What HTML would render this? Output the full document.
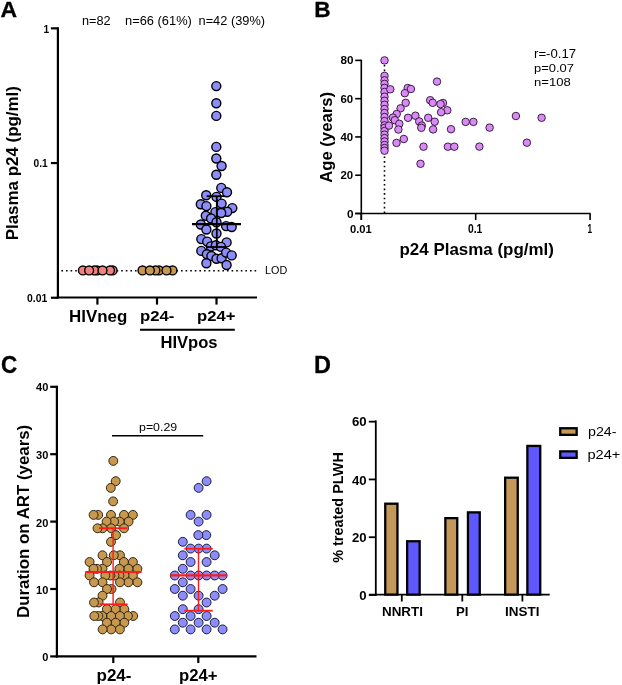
<!DOCTYPE html>
<html><head><meta charset="utf-8"><title>Figure</title>
<style>html,body{margin:0;padding:0;background:#fff;}svg{display:block;}text{font-family:"Liberation Sans", Arial, sans-serif;}</style>
</head><body>
<svg width="622" height="685" viewBox="0 0 622 685">
<rect width="622" height="685" fill="#fff"/>
<text id="A" x="0.50" y="16.90" font-size="22.60" font-weight="bold" text-anchor="start" textLength="16.60" lengthAdjust="spacingAndGlyphs" stroke="#000" stroke-width="0.3">A</text>
<line x1="57.9" y1="27.2" x2="57.9" y2="298.6" stroke="#000" stroke-width="2.2"/>
<line x1="56.8" y1="297.5" x2="257" y2="297.5" stroke="#000" stroke-width="2.2"/>
<line x1="50.9" y1="28.350000000000023" x2="57.9" y2="28.350000000000023" stroke="#000" stroke-width="2.2"/>
<line x1="50.9" y1="163.05" x2="57.9" y2="163.05" stroke="#000" stroke-width="2.2"/>
<line x1="50.9" y1="297.75" x2="57.9" y2="297.75" stroke="#000" stroke-width="2.2"/>
<text id="a1" x="43.50" y="32.90" font-size="10.37" font-weight="bold" text-anchor="start" textLength="5.65" lengthAdjust="spacingAndGlyphs">1</text>
<text id="a01" x="33.50" y="166.90" font-size="10.76" font-weight="bold" text-anchor="start" textLength="14.17" lengthAdjust="spacingAndGlyphs">0.1</text>
<text id="a001" x="27.00" y="302.10" font-size="10.69" font-weight="bold" text-anchor="start" textLength="20.32" lengthAdjust="spacingAndGlyphs">0.01</text>
<line x1="97.4" y1="297.5" x2="97.4" y2="304.6" stroke="#000" stroke-width="2.2"/>
<line x1="157" y1="297.5" x2="157" y2="304.6" stroke="#000" stroke-width="2.2"/>
<line x1="216.5" y1="297.5" x2="216.5" y2="304.6" stroke="#000" stroke-width="2.2"/>
<text id="hivneg" x="69.00" y="321.54" font-size="16.00" font-weight="bold" text-anchor="start" textLength="58.24" lengthAdjust="spacingAndGlyphs">HIVneg</text>
<text id="ap24m" x="140.00" y="321.24" font-size="14.82" font-weight="bold" text-anchor="start" textLength="34.41" lengthAdjust="spacingAndGlyphs">p24-</text>
<text id="ap24p" x="197.00" y="321.24" font-size="14.82" font-weight="bold" text-anchor="start" textLength="38.44" lengthAdjust="spacingAndGlyphs">p24+</text>
<line x1="140" y1="329.7" x2="234.8" y2="329.7" stroke="#000" stroke-width="2"/>
<text id="hivpos" x="160.50" y="348.44" font-size="16.00" font-weight="bold" text-anchor="start" textLength="57.06" lengthAdjust="spacingAndGlyphs">HIVpos</text>
<text id="n82" x="82.00" y="24.60" font-size="12.30" text-anchor="start" textLength="28.62" lengthAdjust="spacingAndGlyphs">n=82</text>
<text id="n66" x="125.00" y="25.00" font-size="12.30" text-anchor="start" textLength="66.88" lengthAdjust="spacingAndGlyphs">n=66 (61%)</text>
<text id="n42" x="198.50" y="25.00" font-size="12.30" text-anchor="start" textLength="66.61" lengthAdjust="spacingAndGlyphs">n=42 (39%)</text>
<text id="aylab" x="18.41" y="240.30" font-size="17.22" font-weight="bold" text-anchor="start" textLength="154.20" lengthAdjust="spacingAndGlyphs" transform="rotate(-90 18.41 240.30)">Plasma p24 (pg/ml)</text>
<line x1="61.4" y1="270.75" x2="256.5" y2="270.75" stroke="#000" stroke-width="1.7" stroke-dasharray="1.6 3.0"/>
<text id="lod" x="265.00" y="274.20" font-size="10.76" text-anchor="start" textLength="22.20" lengthAdjust="spacingAndGlyphs">LOD</text>
<circle cx="97.0" cy="270.4" r="4.45" fill="#F2807F" stroke="#000" stroke-width="1.4"/>
<circle cx="94.3" cy="270.4" r="4.45" fill="#F2807F" stroke="#000" stroke-width="1.4"/>
<circle cx="112.6" cy="270.4" r="4.45" fill="#F2807F" stroke="#000" stroke-width="1.4"/>
<circle cx="110.0" cy="270.4" r="4.45" fill="#F2807F" stroke="#000" stroke-width="1.4"/>
<circle cx="82.9" cy="270.4" r="4.45" fill="#F2807F" stroke="#000" stroke-width="1.4"/>
<circle cx="89.1" cy="270.4" r="4.45" fill="#F2807F" stroke="#000" stroke-width="1.4"/>
<circle cx="102.5" cy="270.4" r="4.45" fill="#F2807F" stroke="#000" stroke-width="1.4"/>
<circle cx="159.1" cy="270.4" r="4.45" fill="#C9984F" stroke="#000" stroke-width="1.4"/>
<circle cx="155.4" cy="270.4" r="4.45" fill="#C9984F" stroke="#000" stroke-width="1.4"/>
<circle cx="172.5" cy="270.4" r="4.45" fill="#C9984F" stroke="#000" stroke-width="1.4"/>
<circle cx="142.5" cy="270.4" r="4.45" fill="#C9984F" stroke="#000" stroke-width="1.4"/>
<circle cx="149.9" cy="270.4" r="4.45" fill="#C9984F" stroke="#000" stroke-width="1.4"/>
<circle cx="166.5" cy="270.4" r="4.45" fill="#C9984F" stroke="#000" stroke-width="1.4"/>
<circle cx="216.3" cy="86.1" r="4.5" fill="#8C8CFB" stroke="#000" stroke-width="1.4"/>
<circle cx="216.3" cy="103.2" r="4.5" fill="#8C8CFB" stroke="#000" stroke-width="1.4"/>
<circle cx="216.3" cy="115.9" r="4.5" fill="#8C8CFB" stroke="#000" stroke-width="1.4"/>
<circle cx="216.3" cy="146.9" r="4.5" fill="#8C8CFB" stroke="#000" stroke-width="1.4"/>
<circle cx="216.3" cy="158.5" r="4.5" fill="#8C8CFB" stroke="#000" stroke-width="1.4"/>
<circle cx="221.6" cy="166.0" r="4.5" fill="#8C8CFB" stroke="#000" stroke-width="1.4"/>
<circle cx="216.3" cy="174.7" r="4.5" fill="#8C8CFB" stroke="#000" stroke-width="1.4"/>
<circle cx="221.3" cy="187.9" r="4.5" fill="#8C8CFB" stroke="#000" stroke-width="1.4"/>
<circle cx="206.2" cy="195.2" r="4.5" fill="#8C8CFB" stroke="#000" stroke-width="1.4"/>
<circle cx="216.5" cy="196.9" r="4.5" fill="#8C8CFB" stroke="#000" stroke-width="1.4"/>
<circle cx="200.8" cy="204.2" r="4.5" fill="#8C8CFB" stroke="#000" stroke-width="1.4"/>
<circle cx="206.4" cy="206.1" r="4.5" fill="#8C8CFB" stroke="#000" stroke-width="1.4"/>
<circle cx="221.6" cy="203.6" r="4.5" fill="#8C8CFB" stroke="#000" stroke-width="1.4"/>
<circle cx="232.3" cy="208.1" r="4.5" fill="#8C8CFB" stroke="#000" stroke-width="1.4"/>
<circle cx="227.2" cy="211.8" r="4.5" fill="#8C8CFB" stroke="#000" stroke-width="1.4"/>
<circle cx="215.4" cy="212.1" r="4.5" fill="#8C8CFB" stroke="#000" stroke-width="1.4"/>
<circle cx="221.2" cy="213.0" r="4.5" fill="#8C8CFB" stroke="#000" stroke-width="1.4"/>
<circle cx="205.8" cy="215.8" r="4.5" fill="#8C8CFB" stroke="#000" stroke-width="1.4"/>
<circle cx="211.1" cy="218.5" r="4.5" fill="#8C8CFB" stroke="#000" stroke-width="1.4"/>
<circle cx="216.5" cy="222.2" r="4.5" fill="#8C8CFB" stroke="#000" stroke-width="1.4"/>
<circle cx="200.8" cy="224.5" r="4.5" fill="#8C8CFB" stroke="#000" stroke-width="1.4"/>
<circle cx="206.4" cy="229.5" r="4.5" fill="#8C8CFB" stroke="#000" stroke-width="1.4"/>
<circle cx="226.1" cy="226.1" r="4.5" fill="#8C8CFB" stroke="#000" stroke-width="1.4"/>
<circle cx="231.7" cy="227.0" r="4.5" fill="#8C8CFB" stroke="#000" stroke-width="1.4"/>
<circle cx="216.5" cy="233.5" r="4.5" fill="#8C8CFB" stroke="#000" stroke-width="1.4"/>
<circle cx="201.3" cy="239.1" r="4.5" fill="#8C8CFB" stroke="#000" stroke-width="1.4"/>
<circle cx="207.2" cy="241.6" r="4.5" fill="#8C8CFB" stroke="#000" stroke-width="1.4"/>
<circle cx="226.6" cy="242.4" r="4.5" fill="#8C8CFB" stroke="#000" stroke-width="1.4"/>
<circle cx="210.9" cy="246.4" r="4.5" fill="#8C8CFB" stroke="#000" stroke-width="1.4"/>
<circle cx="215.9" cy="245.3" r="4.5" fill="#8C8CFB" stroke="#000" stroke-width="1.4"/>
<circle cx="221.0" cy="246.9" r="4.5" fill="#8C8CFB" stroke="#000" stroke-width="1.4"/>
<circle cx="201.3" cy="250.9" r="4.5" fill="#8C8CFB" stroke="#000" stroke-width="1.4"/>
<circle cx="206.9" cy="254.3" r="4.5" fill="#8C8CFB" stroke="#000" stroke-width="1.4"/>
<circle cx="211.4" cy="256.0" r="4.5" fill="#8C8CFB" stroke="#000" stroke-width="1.4"/>
<circle cx="216.5" cy="258.8" r="4.5" fill="#8C8CFB" stroke="#000" stroke-width="1.4"/>
<circle cx="221.6" cy="258.2" r="4.5" fill="#8C8CFB" stroke="#000" stroke-width="1.4"/>
<circle cx="226.1" cy="252.6" r="4.5" fill="#8C8CFB" stroke="#000" stroke-width="1.4"/>
<circle cx="231.7" cy="255.4" r="4.5" fill="#8C8CFB" stroke="#000" stroke-width="1.4"/>
<circle cx="206.4" cy="263.3" r="4.5" fill="#8C8CFB" stroke="#000" stroke-width="1.4"/>
<circle cx="226.6" cy="265.0" r="4.5" fill="#8C8CFB" stroke="#000" stroke-width="1.4"/>
<line x1="192" y1="224.2" x2="241" y2="224.2" stroke="#000" stroke-width="2.2"/>
<line x1="216.8" y1="196.2" x2="216.8" y2="247" stroke="#000" stroke-width="1.8"/>
<line x1="206.6" y1="196.2" x2="227" y2="196.2" stroke="#000" stroke-width="1.8"/>
<line x1="206.6" y1="247" x2="227" y2="247" stroke="#000" stroke-width="1.8"/>
<circle cx="227.0" cy="192.2" r="4.5" fill="#8C8CFB" stroke="#000" stroke-width="1.4"/>
<text id="B" x="314.30" y="16.90" font-size="22.60" font-weight="bold" text-anchor="start" textLength="16.35" lengthAdjust="spacingAndGlyphs" stroke="#000" stroke-width="0.3">B</text>
<line x1="361.3" y1="59.7" x2="361.3" y2="220" stroke="#000" stroke-width="1.6"/>
<line x1="355.2" y1="213.5" x2="590.5" y2="213.5" stroke="#000" stroke-width="1.6"/>
<line x1="355.2" y1="213.5" x2="361.3" y2="213.5" stroke="#000" stroke-width="1.6"/>
<line x1="355.2" y1="175.22" x2="361.3" y2="175.22" stroke="#000" stroke-width="1.6"/>
<line x1="355.2" y1="136.94" x2="361.3" y2="136.94" stroke="#000" stroke-width="1.6"/>
<line x1="355.2" y1="98.66000000000001" x2="361.3" y2="98.66000000000001" stroke="#000" stroke-width="1.6"/>
<line x1="355.2" y1="60.379999999999995" x2="361.3" y2="60.379999999999995" stroke="#000" stroke-width="1.6"/>
<text id="b80" x="340.50" y="63.60" font-size="10.78" font-weight="bold" text-anchor="start" textLength="12.99" lengthAdjust="spacingAndGlyphs">80</text>
<text id="b60" x="340.50" y="102.58" font-size="10.78" font-weight="bold" text-anchor="start" transform="translate(340.50 0) scale(1.0604 1) translate(-340.50 0)">60</text>
<text id="b40" x="340.50" y="140.86" font-size="10.78" font-weight="bold" text-anchor="start" transform="translate(340.50 0) scale(1.0604 1) translate(-340.50 0)">40</text>
<text id="b20" x="340.50" y="179.14" font-size="10.78" font-weight="bold" text-anchor="start" transform="translate(340.50 0) scale(1.0604 1) translate(-340.50 0)">20</text>
<text id="b0y" x="347.00" y="218.00" font-size="10.73" font-weight="bold" text-anchor="start" textLength="6.56" lengthAdjust="spacingAndGlyphs">0</text>
<line x1="361.3" y1="213.5" x2="361.3" y2="220" stroke="#000" stroke-width="1.6"/>
<line x1="475.70000000000005" y1="213.5" x2="475.70000000000005" y2="220" stroke="#000" stroke-width="1.6"/>
<line x1="590.1" y1="213.5" x2="590.1" y2="220" stroke="#000" stroke-width="1.6"/>
<text id="b001" x="350.00" y="232.50" font-size="11.20" font-weight="bold" text-anchor="start" textLength="21.78" lengthAdjust="spacingAndGlyphs">0.01</text>
<text id="b01" x="468.00" y="232.70" font-size="11.85" font-weight="bold" text-anchor="start" textLength="14.33" lengthAdjust="spacingAndGlyphs">0.1</text>
<text id="b1" x="587.50" y="232.70" font-size="11.85" font-weight="bold" text-anchor="start" textLength="4.60" lengthAdjust="spacingAndGlyphs">1</text>
<text id="bxlab" x="399.50" y="255.43" font-size="17.00" font-weight="bold" text-anchor="start" textLength="154.38" lengthAdjust="spacingAndGlyphs">p24 Plasma (pg/ml)</text>
<text id="bylab" x="331.90" y="182.80" font-size="16.60" font-weight="bold" text-anchor="start" textLength="90.81" lengthAdjust="spacingAndGlyphs" transform="rotate(-90 331.90 182.80)">Age (years)</text>
<text id="r" x="534.00" y="58.10" font-size="12.30" text-anchor="start" textLength="42.03" lengthAdjust="spacingAndGlyphs">r=-0.17</text>
<text id="p07" x="534.00" y="71.82" font-size="11.22" text-anchor="start" textLength="39.87" lengthAdjust="spacingAndGlyphs">p=0.07</text>
<text id="n108" x="534.00" y="86.40" font-size="11.16" text-anchor="start" textLength="36.74" lengthAdjust="spacingAndGlyphs">n=108</text>
<line x1="384.5" y1="65.0" x2="384.5" y2="213" stroke="#000" stroke-width="1.6" stroke-dasharray="1.6 2.975"/>
<circle cx="384.5" cy="75.9" r="3.75" fill="#DA8AF7" stroke="#2a1030" stroke-width="0.9"/>
<circle cx="384.5" cy="80.3" r="3.75" fill="#DA8AF7" stroke="#2a1030" stroke-width="0.9"/>
<circle cx="384.5" cy="83.9" r="3.75" fill="#DA8AF7" stroke="#2a1030" stroke-width="0.9"/>
<circle cx="384.5" cy="87.9" r="3.75" fill="#DA8AF7" stroke="#2a1030" stroke-width="0.9"/>
<circle cx="384.5" cy="92.0" r="3.75" fill="#DA8AF7" stroke="#2a1030" stroke-width="0.9"/>
<circle cx="384.5" cy="96.7" r="3.75" fill="#DA8AF7" stroke="#2a1030" stroke-width="0.9"/>
<circle cx="384.5" cy="100.8" r="3.75" fill="#DA8AF7" stroke="#2a1030" stroke-width="0.9"/>
<circle cx="384.5" cy="104.8" r="3.75" fill="#DA8AF7" stroke="#2a1030" stroke-width="0.9"/>
<circle cx="384.5" cy="109.0" r="3.75" fill="#DA8AF7" stroke="#2a1030" stroke-width="0.9"/>
<circle cx="384.5" cy="113.0" r="3.75" fill="#DA8AF7" stroke="#2a1030" stroke-width="0.9"/>
<circle cx="384.5" cy="117.0" r="3.75" fill="#DA8AF7" stroke="#2a1030" stroke-width="0.9"/>
<circle cx="384.5" cy="121.1" r="3.75" fill="#DA8AF7" stroke="#2a1030" stroke-width="0.9"/>
<circle cx="384.5" cy="125.3" r="3.75" fill="#DA8AF7" stroke="#2a1030" stroke-width="0.9"/>
<circle cx="384.5" cy="127.9" r="3.75" fill="#DA8AF7" stroke="#2a1030" stroke-width="0.9"/>
<circle cx="384.5" cy="131.0" r="3.75" fill="#DA8AF7" stroke="#2a1030" stroke-width="0.9"/>
<circle cx="384.5" cy="134.6" r="3.75" fill="#DA8AF7" stroke="#2a1030" stroke-width="0.9"/>
<circle cx="384.5" cy="138.1" r="3.75" fill="#DA8AF7" stroke="#2a1030" stroke-width="0.9"/>
<circle cx="384.5" cy="141.5" r="3.75" fill="#DA8AF7" stroke="#2a1030" stroke-width="0.9"/>
<circle cx="384.5" cy="145.0" r="3.75" fill="#DA8AF7" stroke="#2a1030" stroke-width="0.9"/>
<circle cx="384.5" cy="148.0" r="3.75" fill="#DA8AF7" stroke="#2a1030" stroke-width="0.9"/>
<circle cx="384.5" cy="150.7" r="3.75" fill="#DA8AF7" stroke="#2a1030" stroke-width="0.9"/>
<circle cx="384.5" cy="60.4" r="3.75" fill="#DA8AF7" stroke="#2a1030" stroke-width="0.9"/>
<circle cx="437.0" cy="81.6" r="3.75" fill="#DA8AF7" stroke="#2a1030" stroke-width="0.9"/>
<circle cx="390.3" cy="89.3" r="3.75" fill="#DA8AF7" stroke="#2a1030" stroke-width="0.9"/>
<circle cx="407.7" cy="88.0" r="3.75" fill="#DA8AF7" stroke="#2a1030" stroke-width="0.9"/>
<circle cx="410.9" cy="89.0" r="3.75" fill="#DA8AF7" stroke="#2a1030" stroke-width="0.9"/>
<circle cx="404.8" cy="93.2" r="3.75" fill="#DA8AF7" stroke="#2a1030" stroke-width="0.9"/>
<circle cx="405.7" cy="102.8" r="3.75" fill="#DA8AF7" stroke="#2a1030" stroke-width="0.9"/>
<circle cx="430.2" cy="100.2" r="3.75" fill="#DA8AF7" stroke="#2a1030" stroke-width="0.9"/>
<circle cx="432.7" cy="102.8" r="3.75" fill="#DA8AF7" stroke="#2a1030" stroke-width="0.9"/>
<circle cx="443.0" cy="103.0" r="3.75" fill="#DA8AF7" stroke="#2a1030" stroke-width="0.9"/>
<circle cx="440.5" cy="104.1" r="3.75" fill="#DA8AF7" stroke="#2a1030" stroke-width="0.9"/>
<circle cx="447.3" cy="110.3" r="3.75" fill="#DA8AF7" stroke="#2a1030" stroke-width="0.9"/>
<circle cx="441.1" cy="112.2" r="3.75" fill="#DA8AF7" stroke="#2a1030" stroke-width="0.9"/>
<circle cx="400.6" cy="108.3" r="3.75" fill="#DA8AF7" stroke="#2a1030" stroke-width="0.9"/>
<circle cx="396.7" cy="114.0" r="3.75" fill="#DA8AF7" stroke="#2a1030" stroke-width="0.9"/>
<circle cx="392.9" cy="117.6" r="3.75" fill="#DA8AF7" stroke="#2a1030" stroke-width="0.9"/>
<circle cx="394.8" cy="120.2" r="3.75" fill="#DA8AF7" stroke="#2a1030" stroke-width="0.9"/>
<circle cx="399.3" cy="123.8" r="3.75" fill="#DA8AF7" stroke="#2a1030" stroke-width="0.9"/>
<circle cx="389.0" cy="125.6" r="3.75" fill="#DA8AF7" stroke="#2a1030" stroke-width="0.9"/>
<circle cx="398.4" cy="129.5" r="3.75" fill="#DA8AF7" stroke="#2a1030" stroke-width="0.9"/>
<circle cx="408.0" cy="117.8" r="3.75" fill="#DA8AF7" stroke="#2a1030" stroke-width="0.9"/>
<circle cx="415.4" cy="115.7" r="3.75" fill="#DA8AF7" stroke="#2a1030" stroke-width="0.9"/>
<circle cx="419.2" cy="121.4" r="3.75" fill="#DA8AF7" stroke="#2a1030" stroke-width="0.9"/>
<circle cx="421.8" cy="125.6" r="3.75" fill="#DA8AF7" stroke="#2a1030" stroke-width="0.9"/>
<circle cx="428.2" cy="117.8" r="3.75" fill="#DA8AF7" stroke="#2a1030" stroke-width="0.9"/>
<circle cx="421.3" cy="127.8" r="3.75" fill="#DA8AF7" stroke="#2a1030" stroke-width="0.9"/>
<circle cx="434.7" cy="121.7" r="3.75" fill="#DA8AF7" stroke="#2a1030" stroke-width="0.9"/>
<circle cx="433.1" cy="129.4" r="3.75" fill="#DA8AF7" stroke="#2a1030" stroke-width="0.9"/>
<circle cx="451.0" cy="129.2" r="3.75" fill="#DA8AF7" stroke="#2a1030" stroke-width="0.9"/>
<circle cx="403.8" cy="139.0" r="3.75" fill="#DA8AF7" stroke="#2a1030" stroke-width="0.9"/>
<circle cx="396.5" cy="142.9" r="3.75" fill="#DA8AF7" stroke="#2a1030" stroke-width="0.9"/>
<circle cx="423.5" cy="146.7" r="3.75" fill="#DA8AF7" stroke="#2a1030" stroke-width="0.9"/>
<circle cx="447.9" cy="146.7" r="3.75" fill="#DA8AF7" stroke="#2a1030" stroke-width="0.9"/>
<circle cx="454.3" cy="146.7" r="3.75" fill="#DA8AF7" stroke="#2a1030" stroke-width="0.9"/>
<circle cx="420.5" cy="163.8" r="3.75" fill="#DA8AF7" stroke="#2a1030" stroke-width="0.9"/>
<circle cx="465.7" cy="121.9" r="3.75" fill="#DA8AF7" stroke="#2a1030" stroke-width="0.9"/>
<circle cx="473.4" cy="121.9" r="3.75" fill="#DA8AF7" stroke="#2a1030" stroke-width="0.9"/>
<circle cx="489.6" cy="127.6" r="3.75" fill="#DA8AF7" stroke="#2a1030" stroke-width="0.9"/>
<circle cx="515.9" cy="116.0" r="3.75" fill="#DA8AF7" stroke="#2a1030" stroke-width="0.9"/>
<circle cx="541.6" cy="117.8" r="3.75" fill="#DA8AF7" stroke="#2a1030" stroke-width="0.9"/>
<circle cx="526.9" cy="142.7" r="3.75" fill="#DA8AF7" stroke="#2a1030" stroke-width="0.9"/>
<circle cx="479.4" cy="146.6" r="3.75" fill="#DA8AF7" stroke="#2a1030" stroke-width="0.9"/>
<text id="C" x="1.00" y="372.80" font-size="23.40" font-weight="bold" text-anchor="start" textLength="16.26" lengthAdjust="spacingAndGlyphs" stroke="#000" stroke-width="0.3">C</text>
<line x1="56.9" y1="385.7" x2="56.9" y2="657.5" stroke="#000" stroke-width="2.2"/>
<line x1="55.8" y1="656.4" x2="256.5" y2="656.4" stroke="#000" stroke-width="2.2"/>
<line x1="50.2" y1="656.4" x2="56.9" y2="656.4" stroke="#000" stroke-width="2.2"/>
<line x1="50.2" y1="589.0" x2="56.9" y2="589.0" stroke="#000" stroke-width="2.2"/>
<line x1="50.2" y1="521.5999999999999" x2="56.9" y2="521.5999999999999" stroke="#000" stroke-width="2.2"/>
<line x1="50.2" y1="454.19999999999993" x2="56.9" y2="454.19999999999993" stroke="#000" stroke-width="2.2"/>
<line x1="50.2" y1="386.79999999999995" x2="56.9" y2="386.79999999999995" stroke="#000" stroke-width="2.2"/>
<text id="c40" x="36.00" y="391.20" font-size="11.30" font-weight="bold" text-anchor="start" textLength="12.32" lengthAdjust="spacingAndGlyphs">40</text>
<text id="c30" x="36.00" y="459.30" font-size="11.30" font-weight="bold" text-anchor="start" transform="translate(36.00 0) scale(0.9795 1) translate(-36.00 0)">30</text>
<text id="c20" x="36.00" y="526.70" font-size="11.30" font-weight="bold" text-anchor="start" transform="translate(36.00 0) scale(0.9795 1) translate(-36.00 0)">20</text>
<text id="c10" x="36.00" y="594.10" font-size="11.30" font-weight="bold" text-anchor="start" transform="translate(36.00 0) scale(0.9795 1) translate(-36.00 0)">10</text>
<text id="c0" x="42.20" y="661.50" font-size="11.30" font-weight="bold" text-anchor="start" transform="translate(42.20 0) scale(0.9795 1) translate(-42.20 0)">0</text>
<line x1="113.3" y1="656.4" x2="113.3" y2="663" stroke="#000" stroke-width="2.2"/>
<line x1="198.3" y1="656.4" x2="198.3" y2="663" stroke="#000" stroke-width="2.2"/>
<text id="cp24m" x="96.50" y="680.74" font-size="16.00" font-weight="bold" text-anchor="start" textLength="34.99" lengthAdjust="spacingAndGlyphs">p24-</text>
<text id="cp24p" x="179.00" y="680.74" font-size="16.00" font-weight="bold" text-anchor="start" textLength="38.51" lengthAdjust="spacingAndGlyphs">p24+</text>
<text id="cylab" x="29.00" y="617.90" font-size="16.94" font-weight="bold" text-anchor="start" textLength="193.06" lengthAdjust="spacingAndGlyphs" transform="rotate(-90 29.00 617.90)">Duration on ART (years)</text>
<line x1="112" y1="435.8" x2="203.2" y2="435.8" stroke="#000" stroke-width="1.6"/>
<text id="p029" x="139.00" y="430.92" font-size="11.42" text-anchor="start" textLength="38.23" lengthAdjust="spacingAndGlyphs">p=0.29</text>
<circle cx="113.3" cy="460.9" r="4.45" fill="#C9984F" stroke="#2e2614" stroke-width="1.0"/>
<circle cx="115.7" cy="481.2" r="4.45" fill="#C9984F" stroke="#2e2614" stroke-width="1.0"/>
<circle cx="110.8" cy="487.9" r="4.45" fill="#C9984F" stroke="#2e2614" stroke-width="1.0"/>
<circle cx="113.1" cy="501.4" r="4.45" fill="#C9984F" stroke="#2e2614" stroke-width="1.0"/>
<circle cx="132.9" cy="514.9" r="4.45" fill="#C9984F" stroke="#2e2614" stroke-width="1.0"/>
<circle cx="124.0" cy="514.9" r="4.45" fill="#C9984F" stroke="#2e2614" stroke-width="1.0"/>
<circle cx="111.0" cy="514.9" r="4.45" fill="#C9984F" stroke="#2e2614" stroke-width="1.0"/>
<circle cx="98.2" cy="514.9" r="4.45" fill="#C9984F" stroke="#2e2614" stroke-width="1.0"/>
<circle cx="93.6" cy="514.9" r="4.45" fill="#C9984F" stroke="#2e2614" stroke-width="1.0"/>
<circle cx="128.6" cy="521.6" r="4.45" fill="#C9984F" stroke="#2e2614" stroke-width="1.0"/>
<circle cx="119.6" cy="521.6" r="4.45" fill="#C9984F" stroke="#2e2614" stroke-width="1.0"/>
<circle cx="114.1" cy="521.6" r="4.45" fill="#C9984F" stroke="#2e2614" stroke-width="1.0"/>
<circle cx="106.6" cy="521.6" r="4.45" fill="#C9984F" stroke="#2e2614" stroke-width="1.0"/>
<circle cx="124.0" cy="528.3" r="4.45" fill="#C9984F" stroke="#2e2614" stroke-width="1.0"/>
<circle cx="111.2" cy="528.3" r="4.45" fill="#C9984F" stroke="#2e2614" stroke-width="1.0"/>
<circle cx="102.6" cy="528.3" r="4.45" fill="#C9984F" stroke="#2e2614" stroke-width="1.0"/>
<circle cx="97.5" cy="528.3" r="4.45" fill="#C9984F" stroke="#2e2614" stroke-width="1.0"/>
<circle cx="116.0" cy="535.1" r="4.45" fill="#C9984F" stroke="#2e2614" stroke-width="1.0"/>
<circle cx="111.0" cy="541.8" r="4.45" fill="#C9984F" stroke="#2e2614" stroke-width="1.0"/>
<circle cx="120.0" cy="555.3" r="4.45" fill="#C9984F" stroke="#2e2614" stroke-width="1.0"/>
<circle cx="113.8" cy="555.3" r="4.45" fill="#C9984F" stroke="#2e2614" stroke-width="1.0"/>
<circle cx="102.5" cy="555.3" r="4.45" fill="#C9984F" stroke="#2e2614" stroke-width="1.0"/>
<circle cx="132.9" cy="562.0" r="4.45" fill="#C9984F" stroke="#2e2614" stroke-width="1.0"/>
<circle cx="123.9" cy="562.0" r="4.45" fill="#C9984F" stroke="#2e2614" stroke-width="1.0"/>
<circle cx="107.0" cy="562.0" r="4.45" fill="#C9984F" stroke="#2e2614" stroke-width="1.0"/>
<circle cx="89.6" cy="562.0" r="4.45" fill="#C9984F" stroke="#2e2614" stroke-width="1.0"/>
<circle cx="137.4" cy="568.8" r="4.45" fill="#C9984F" stroke="#2e2614" stroke-width="1.0"/>
<circle cx="128.4" cy="568.8" r="4.45" fill="#C9984F" stroke="#2e2614" stroke-width="1.0"/>
<circle cx="119.4" cy="568.8" r="4.45" fill="#C9984F" stroke="#2e2614" stroke-width="1.0"/>
<circle cx="102.5" cy="568.8" r="4.45" fill="#C9984F" stroke="#2e2614" stroke-width="1.0"/>
<circle cx="97.0" cy="568.8" r="4.45" fill="#C9984F" stroke="#2e2614" stroke-width="1.0"/>
<circle cx="93.5" cy="568.8" r="4.45" fill="#C9984F" stroke="#2e2614" stroke-width="1.0"/>
<circle cx="132.9" cy="575.5" r="4.45" fill="#C9984F" stroke="#2e2614" stroke-width="1.0"/>
<circle cx="124.5" cy="575.5" r="4.45" fill="#C9984F" stroke="#2e2614" stroke-width="1.0"/>
<circle cx="119.4" cy="575.5" r="4.45" fill="#C9984F" stroke="#2e2614" stroke-width="1.0"/>
<circle cx="114.5" cy="575.5" r="4.45" fill="#C9984F" stroke="#2e2614" stroke-width="1.0"/>
<circle cx="110.4" cy="575.5" r="4.45" fill="#C9984F" stroke="#2e2614" stroke-width="1.0"/>
<circle cx="105.3" cy="575.5" r="4.45" fill="#C9984F" stroke="#2e2614" stroke-width="1.0"/>
<circle cx="89.6" cy="575.5" r="4.45" fill="#C9984F" stroke="#2e2614" stroke-width="1.0"/>
<circle cx="137.4" cy="582.3" r="4.45" fill="#C9984F" stroke="#2e2614" stroke-width="1.0"/>
<circle cx="128.4" cy="582.3" r="4.45" fill="#C9984F" stroke="#2e2614" stroke-width="1.0"/>
<circle cx="120.0" cy="582.3" r="4.45" fill="#C9984F" stroke="#2e2614" stroke-width="1.0"/>
<circle cx="102.5" cy="582.3" r="4.45" fill="#C9984F" stroke="#2e2614" stroke-width="1.0"/>
<circle cx="94.0" cy="582.3" r="4.45" fill="#C9984F" stroke="#2e2614" stroke-width="1.0"/>
<circle cx="111.5" cy="589.0" r="4.45" fill="#C9984F" stroke="#2e2614" stroke-width="1.0"/>
<circle cx="107.0" cy="589.0" r="4.45" fill="#C9984F" stroke="#2e2614" stroke-width="1.0"/>
<circle cx="102.5" cy="595.7" r="4.45" fill="#C9984F" stroke="#2e2614" stroke-width="1.0"/>
<circle cx="120.0" cy="602.5" r="4.45" fill="#C9984F" stroke="#2e2614" stroke-width="1.0"/>
<circle cx="98.6" cy="602.5" r="4.45" fill="#C9984F" stroke="#2e2614" stroke-width="1.0"/>
<circle cx="94.0" cy="602.5" r="4.45" fill="#C9984F" stroke="#2e2614" stroke-width="1.0"/>
<circle cx="124.3" cy="609.2" r="4.45" fill="#C9984F" stroke="#2e2614" stroke-width="1.0"/>
<circle cx="115.6" cy="609.2" r="4.45" fill="#C9984F" stroke="#2e2614" stroke-width="1.0"/>
<circle cx="106.9" cy="609.2" r="4.45" fill="#C9984F" stroke="#2e2614" stroke-width="1.0"/>
<circle cx="133.2" cy="616.0" r="4.45" fill="#C9984F" stroke="#2e2614" stroke-width="1.0"/>
<circle cx="127.9" cy="616.0" r="4.45" fill="#C9984F" stroke="#2e2614" stroke-width="1.0"/>
<circle cx="119.9" cy="616.0" r="4.45" fill="#C9984F" stroke="#2e2614" stroke-width="1.0"/>
<circle cx="111.1" cy="616.0" r="4.45" fill="#C9984F" stroke="#2e2614" stroke-width="1.0"/>
<circle cx="102.2" cy="616.0" r="4.45" fill="#C9984F" stroke="#2e2614" stroke-width="1.0"/>
<circle cx="98.3" cy="616.0" r="4.45" fill="#C9984F" stroke="#2e2614" stroke-width="1.0"/>
<circle cx="94.3" cy="616.0" r="4.45" fill="#C9984F" stroke="#2e2614" stroke-width="1.0"/>
<circle cx="124.3" cy="622.7" r="4.45" fill="#C9984F" stroke="#2e2614" stroke-width="1.0"/>
<circle cx="115.6" cy="622.7" r="4.45" fill="#C9984F" stroke="#2e2614" stroke-width="1.0"/>
<circle cx="106.9" cy="622.7" r="4.45" fill="#C9984F" stroke="#2e2614" stroke-width="1.0"/>
<circle cx="119.9" cy="629.4" r="4.45" fill="#C9984F" stroke="#2e2614" stroke-width="1.0"/>
<circle cx="111.2" cy="629.4" r="4.45" fill="#C9984F" stroke="#2e2614" stroke-width="1.0"/>
<circle cx="102.6" cy="629.4" r="4.45" fill="#C9984F" stroke="#2e2614" stroke-width="1.0"/>
<circle cx="206.6" cy="481.2" r="4.45" fill="#8C8CFB" stroke="#1c1c3a" stroke-width="1.0"/>
<circle cx="198.6" cy="487.9" r="4.45" fill="#8C8CFB" stroke="#1c1c3a" stroke-width="1.0"/>
<circle cx="206.6" cy="514.9" r="4.45" fill="#8C8CFB" stroke="#1c1c3a" stroke-width="1.0"/>
<circle cx="190.6" cy="514.9" r="4.45" fill="#8C8CFB" stroke="#1c1c3a" stroke-width="1.0"/>
<circle cx="198.6" cy="521.6" r="4.45" fill="#8C8CFB" stroke="#1c1c3a" stroke-width="1.0"/>
<circle cx="206.3" cy="535.1" r="4.45" fill="#8C8CFB" stroke="#1c1c3a" stroke-width="1.0"/>
<circle cx="198.3" cy="535.1" r="4.45" fill="#8C8CFB" stroke="#1c1c3a" stroke-width="1.0"/>
<circle cx="182.8" cy="541.8" r="4.45" fill="#8C8CFB" stroke="#1c1c3a" stroke-width="1.0"/>
<circle cx="206.6" cy="548.6" r="4.45" fill="#8C8CFB" stroke="#1c1c3a" stroke-width="1.0"/>
<circle cx="198.6" cy="548.6" r="4.45" fill="#8C8CFB" stroke="#1c1c3a" stroke-width="1.0"/>
<circle cx="190.6" cy="548.6" r="4.45" fill="#8C8CFB" stroke="#1c1c3a" stroke-width="1.0"/>
<circle cx="214.7" cy="555.3" r="4.45" fill="#8C8CFB" stroke="#1c1c3a" stroke-width="1.0"/>
<circle cx="182.8" cy="555.3" r="4.45" fill="#8C8CFB" stroke="#1c1c3a" stroke-width="1.0"/>
<circle cx="206.6" cy="562.0" r="4.45" fill="#8C8CFB" stroke="#1c1c3a" stroke-width="1.0"/>
<circle cx="190.6" cy="562.0" r="4.45" fill="#8C8CFB" stroke="#1c1c3a" stroke-width="1.0"/>
<circle cx="182.8" cy="568.8" r="4.45" fill="#8C8CFB" stroke="#1c1c3a" stroke-width="1.0"/>
<circle cx="222.6" cy="575.5" r="4.45" fill="#8C8CFB" stroke="#1c1c3a" stroke-width="1.0"/>
<circle cx="214.7" cy="575.5" r="4.45" fill="#8C8CFB" stroke="#1c1c3a" stroke-width="1.0"/>
<circle cx="206.6" cy="575.5" r="4.45" fill="#8C8CFB" stroke="#1c1c3a" stroke-width="1.0"/>
<circle cx="198.6" cy="575.5" r="4.45" fill="#8C8CFB" stroke="#1c1c3a" stroke-width="1.0"/>
<circle cx="190.6" cy="575.5" r="4.45" fill="#8C8CFB" stroke="#1c1c3a" stroke-width="1.0"/>
<circle cx="174.8" cy="575.5" r="4.45" fill="#8C8CFB" stroke="#1c1c3a" stroke-width="1.0"/>
<circle cx="182.8" cy="582.3" r="4.45" fill="#8C8CFB" stroke="#1c1c3a" stroke-width="1.0"/>
<circle cx="222.6" cy="589.0" r="4.45" fill="#8C8CFB" stroke="#1c1c3a" stroke-width="1.0"/>
<circle cx="190.6" cy="589.0" r="4.45" fill="#8C8CFB" stroke="#1c1c3a" stroke-width="1.0"/>
<circle cx="174.8" cy="589.0" r="4.45" fill="#8C8CFB" stroke="#1c1c3a" stroke-width="1.0"/>
<circle cx="214.7" cy="595.7" r="4.45" fill="#8C8CFB" stroke="#1c1c3a" stroke-width="1.0"/>
<circle cx="198.6" cy="595.7" r="4.45" fill="#8C8CFB" stroke="#1c1c3a" stroke-width="1.0"/>
<circle cx="182.8" cy="595.7" r="4.45" fill="#8C8CFB" stroke="#1c1c3a" stroke-width="1.0"/>
<circle cx="206.6" cy="602.5" r="4.45" fill="#8C8CFB" stroke="#1c1c3a" stroke-width="1.0"/>
<circle cx="198.6" cy="609.2" r="4.45" fill="#8C8CFB" stroke="#1c1c3a" stroke-width="1.0"/>
<circle cx="182.8" cy="609.2" r="4.45" fill="#8C8CFB" stroke="#1c1c3a" stroke-width="1.0"/>
<circle cx="206.6" cy="616.0" r="4.45" fill="#8C8CFB" stroke="#1c1c3a" stroke-width="1.0"/>
<circle cx="190.6" cy="616.0" r="4.45" fill="#8C8CFB" stroke="#1c1c3a" stroke-width="1.0"/>
<circle cx="174.8" cy="616.0" r="4.45" fill="#8C8CFB" stroke="#1c1c3a" stroke-width="1.0"/>
<circle cx="214.7" cy="622.7" r="4.45" fill="#8C8CFB" stroke="#1c1c3a" stroke-width="1.0"/>
<circle cx="198.6" cy="622.7" r="4.45" fill="#8C8CFB" stroke="#1c1c3a" stroke-width="1.0"/>
<circle cx="182.8" cy="622.7" r="4.45" fill="#8C8CFB" stroke="#1c1c3a" stroke-width="1.0"/>
<circle cx="222.6" cy="629.4" r="4.45" fill="#8C8CFB" stroke="#1c1c3a" stroke-width="1.0"/>
<circle cx="206.6" cy="629.4" r="4.45" fill="#8C8CFB" stroke="#1c1c3a" stroke-width="1.0"/>
<circle cx="190.6" cy="629.4" r="4.45" fill="#8C8CFB" stroke="#1c1c3a" stroke-width="1.0"/>
<circle cx="174.8" cy="629.4" r="4.45" fill="#8C8CFB" stroke="#1c1c3a" stroke-width="1.0"/>
<line x1="85.2" y1="572" x2="141.6" y2="572" stroke="#FF1A1A" stroke-width="2.2"/>
<line x1="113.1" y1="528.2" x2="113.1" y2="604.3" stroke="#FF1A1A" stroke-width="1.4"/>
<line x1="99" y1="528.2" x2="127.4" y2="528.2" stroke="#FF1A1A" stroke-width="1.8"/>
<line x1="99.7" y1="604.3" x2="127.6" y2="604.3" stroke="#FF1A1A" stroke-width="1.8"/>
<line x1="170.5" y1="575.4" x2="226.6" y2="575.4" stroke="#FF1A1A" stroke-width="2.2"/>
<line x1="198.5" y1="548.7" x2="198.5" y2="610.7" stroke="#FF1A1A" stroke-width="1.4"/>
<line x1="184.4" y1="548.7" x2="212.7" y2="548.7" stroke="#FF1A1A" stroke-width="1.8"/>
<line x1="184.4" y1="610.7" x2="212.7" y2="610.7" stroke="#FF1A1A" stroke-width="1.8"/>
<text id="D" x="313.90" y="373.00" font-size="23.50" font-weight="bold" text-anchor="start" textLength="16.97" lengthAdjust="spacingAndGlyphs" stroke="#000" stroke-width="0.3">D</text>
<line x1="375.8" y1="420.40000000000003" x2="375.8" y2="595.9" stroke="#000" stroke-width="1.8"/>
<line x1="369" y1="594.6" x2="549.7" y2="594.6" stroke="#000" stroke-width="1.8"/>
<line x1="368.8" y1="595.0" x2="375.8" y2="595.0" stroke="#000" stroke-width="1.8"/>
<line x1="368.8" y1="537.22" x2="375.8" y2="537.22" stroke="#000" stroke-width="1.8"/>
<line x1="368.8" y1="479.44" x2="375.8" y2="479.44" stroke="#000" stroke-width="1.8"/>
<line x1="368.8" y1="421.66" x2="375.8" y2="421.66" stroke="#000" stroke-width="1.8"/>
<text id="d60" x="352.00" y="426.10" font-size="12.40" font-weight="bold" text-anchor="start" textLength="14.68" lengthAdjust="spacingAndGlyphs">60</text>
<text id="d40" x="352.00" y="484.58" font-size="12.40" font-weight="bold" text-anchor="start" transform="translate(352.00 0) scale(1.0640 1) translate(-352.00 0)">40</text>
<text id="d20" x="352.00" y="542.36" font-size="12.40" font-weight="bold" text-anchor="start" transform="translate(352.00 0) scale(1.0640 1) translate(-352.00 0)">20</text>
<text id="d0" x="359.35" y="600.14" font-size="12.40" font-weight="bold" text-anchor="start" transform="translate(359.35 0) scale(1.0640 1) translate(-359.35 0)">0</text>
<line x1="401.8" y1="594.6" x2="401.8" y2="601.5" stroke="#000" stroke-width="1.8"/>
<line x1="462.3" y1="594.6" x2="462.3" y2="601.5" stroke="#000" stroke-width="1.8"/>
<line x1="522.4" y1="594.6" x2="522.4" y2="601.5" stroke="#000" stroke-width="1.8"/>
<text id="nnrti" x="382.00" y="615.80" font-size="12.24" font-weight="bold" text-anchor="start" textLength="40.96" lengthAdjust="spacingAndGlyphs">NNRTI</text>
<text id="pi" x="456.00" y="616.40" font-size="12.60" font-weight="bold" text-anchor="start" textLength="12.48" lengthAdjust="spacingAndGlyphs">PI</text>
<text id="insti" x="505.00" y="616.40" font-size="12.60" font-weight="bold" text-anchor="start" textLength="34.48" lengthAdjust="spacingAndGlyphs">INSTI</text>
<text id="dylab" x="343.25" y="562.80" font-size="14.90" font-weight="bold" text-anchor="start" textLength="110.63" lengthAdjust="spacingAndGlyphs" transform="rotate(-90 343.25 562.80)">% treated PLWH</text>
<rect x="385.25" y="503.702" width="12.2" height="90.898" fill="#C49858" stroke="#000" stroke-width="2.3"/>
<rect x="407.15" y="541.259" width="12.50000000000001" height="53.34099999999999" fill="#6058FF" stroke="#000" stroke-width="2.3"/>
<rect x="445.34999999999997" y="518.1469999999999" width="11.899999999999988" height="76.45300000000006" fill="#C49858" stroke="#000" stroke-width="2.3"/>
<rect x="467.95" y="512.369" width="11.799999999999965" height="82.23100000000002" fill="#6058FF" stroke="#000" stroke-width="2.3"/>
<rect x="505.15" y="477.70099999999996" width="12.599999999999977" height="116.89900000000003" fill="#C49858" stroke="#000" stroke-width="2.3"/>
<rect x="527.35" y="445.922" width="12.899999999999931" height="148.67799999999997" fill="#6058FF" stroke="#000" stroke-width="2.3"/>
<rect x="560.25" y="428.25" width="16.39999999999993" height="6.599999999999977" fill="#C49858" stroke="#000" stroke-width="2.3"/>
<rect x="560.25" y="451.34999999999997" width="16.39999999999993" height="6.5000000000000115" fill="#6058FF" stroke="#000" stroke-width="2.3"/>
<text id="lm" x="588.00" y="435.62" font-size="12.30" text-anchor="start" textLength="28.46" lengthAdjust="spacingAndGlyphs">p24-</text>
<text id="lp" x="587.50" y="459.12" font-size="12.30" text-anchor="start" textLength="32.90" lengthAdjust="spacingAndGlyphs">p24+</text>
</svg>
</body></html>
